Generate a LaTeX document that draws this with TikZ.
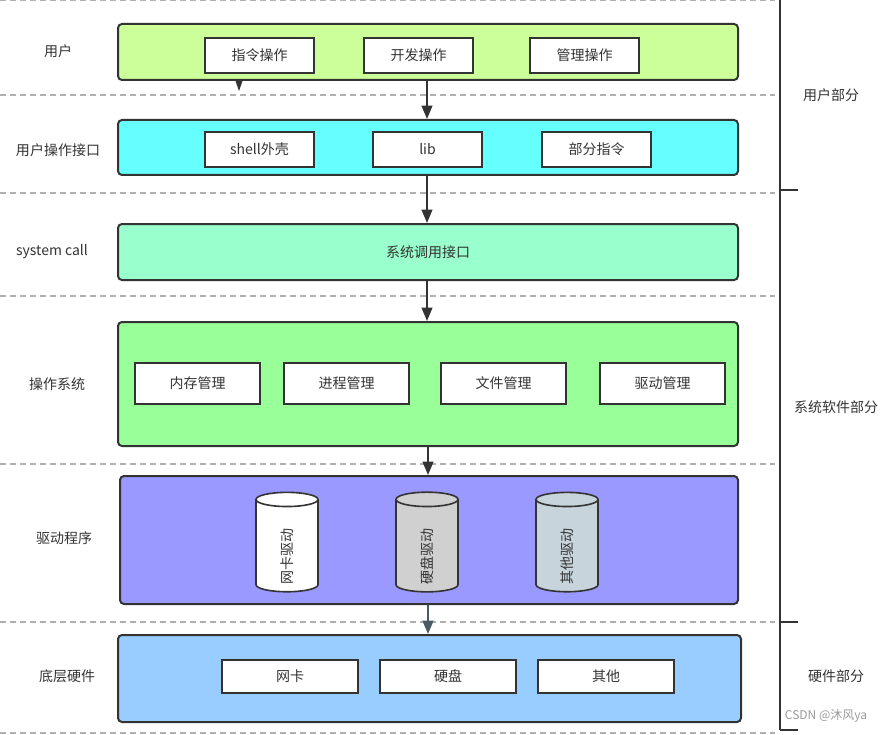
\documentclass[tikz,border=0pt]{standalone}
\usepackage{fontspec}
\setmainfont{Noto Sans CJK SC}
\usetikzlibrary{arrows.meta,shapes.geometric}
\definecolor{txt}{HTML}{333333}
\definecolor{edge}{HTML}{333333}
\definecolor{sepline}{HTML}{B0B0B0}
\definecolor{cUser}{HTML}{CCFF99}
\definecolor{cIface}{HTML}{66FFFF}
\definecolor{cSys}{HTML}{99FFCC}
\definecolor{cOS}{HTML}{99FF99}
\definecolor{cDrv}{HTML}{9999FF}
\definecolor{cHw}{HTML}{99CCFF}
\definecolor{cGray}{HTML}{D0D0D0}
\definecolor{cGray2}{HTML}{C8D4DC}
\tikzset{
  layer/.style={draw=edge, line width=1.5pt, rounded corners=3pt, inner sep=0pt},
  item/.style={draw=edge, line width=1.5pt, fill=white, inner sep=0pt, font=\fontsize{10.5pt}{12pt}\selectfont, text=txt},
  lbl/.style={font=\fontsize{10.5pt}{12pt}\selectfont, text=txt},
  drum/.style={cylinder, rotate=90, draw=edge, line width=1.2pt, aspect=1.1, inner sep=0pt, minimum width={62*0.75pt}, minimum height={90*0.75pt}, font=\fontsize{10.5pt}{12pt}\selectfont, text=txt},
  sep/.style={draw=sepline, line width=0.9pt, dash pattern=on 4.5pt off 3pt},
  flow/.style={draw=edge, line width=1.5pt, -{Triangle[width=8pt,length=10pt]}},
}
\begin{document}
\begin{tikzpicture}[x=0.75pt,y=-0.75pt]
\useasboundingbox (0,0) rectangle (887,734);
% separators
\foreach \yy in {0.8,95,193,296,464,622,733}{\draw[sep] (0,\yy) -- (775,\yy);}
% right bracket
\draw[edge, line width=1.5pt] (780,0) -- (780,730);
\draw[edge, line width=1.5pt] (780,190.5) -- (798,190.5);
\draw[edge, line width=1.5pt] (780,622) -- (798,622);
\draw[edge, line width=1.5pt] (780,730) -- (798,730);
\node[lbl] (rUser) at (831,95) {用户部分};
\node[lbl] (rSys) at (836,407) {系统软件部分};
\node[lbl] (rHw) at (836,676) {硬件部分};
\node[font=\fontsize{9pt}{10pt}\selectfont, text=gray!80] (mark) at (826,716) {CSDN @沐风ya};

% layers
\node[layer, fill=cUser, minimum width={620*0.75pt}, minimum height={56*0.75pt}] (L1) at (428,52) {};
\node[layer, fill=cIface, minimum width={620*0.75pt}, minimum height={55*0.75pt}] (L2) at (428,147.5) {};
\node[layer, fill=cSys, minimum width={620*0.75pt}, minimum height={56*0.75pt}, font=\fontsize{10.5pt}{12pt}\selectfont, text=txt] (L3) at (428,252) {系统调用接口};
\node[layer, fill=cOS, minimum width={620*0.75pt}, minimum height={124*0.75pt}] (L4) at (428,384) {};
\node[layer, fill=cDrv, minimum width={618*0.75pt}, minimum height={128*0.75pt}] (L5) at (429,540) {};
\node[layer, fill=cHw, minimum width={623*0.75pt}, minimum height={87*0.75pt}] (L6) at (429.5,678.5) {};

% left labels
\node[lbl] (n1) at (58,51) {用户};
\node[lbl] (n2) at (58,150) {用户操作接口};
\node[lbl] (n3) at (52,252) {system call};
\node[lbl] (n4) at (57,384) {操作系统};
\node[lbl] (n5) at (64,538) {驱动程序};
\node[lbl] (n6) at (67,676) {底层硬件};

% layer 1 items
\node[item, minimum width={109*0.75pt}, minimum height={35*0.75pt}] (a1) at (259.5,55.5) {指令操作};
\node[item, minimum width={109*0.75pt}, minimum height={35*0.75pt}] (a2) at (418.5,55.5) {开发操作};
\node[item, minimum width={109*0.75pt}, minimum height={35*0.75pt}] (a3) at (584.5,55.5) {管理操作};
% layer 2 items
\node[item, minimum width={109*0.75pt}, minimum height={35*0.75pt}] (b1) at (259.5,149.5) {shell外壳};
\node[item, minimum width={109*0.75pt}, minimum height={35*0.75pt}] (b2) at (427.5,149.5) {lib};
\node[item, minimum width={109*0.75pt}, minimum height={35*0.75pt}] (b3) at (596.5,149.5) {部分指令};
% layer 4 items
\node[item, minimum width={125*0.75pt}, minimum height={41*0.75pt}] (c1) at (197.5,383.5) {内存管理};
\node[item, minimum width={125*0.75pt}, minimum height={41*0.75pt}] (c2) at (346.5,383.5) {进程管理};
\node[item, minimum width={125*0.75pt}, minimum height={41*0.75pt}] (c3) at (503.5,383.5) {文件管理};
\node[item, minimum width={125*0.75pt}, minimum height={41*0.75pt}] (c4) at (662.5,383.5) {驱动管理};
% layer 5 drums
\node[drum, fill=white] (d1) at (287,546) {网卡驱动\hspace*{16pt}};
\node[drum, fill=cGray] (d2) at (427,546) {硬盘驱动\hspace*{16pt}};
\node[drum, fill=cGray2] (d3) at (567,546) {其他驱动\hspace*{16pt}};
% layer 6 items
\node[item, minimum width={136*0.75pt}, minimum height={33*0.75pt}] (e1) at (290,676.5) {网卡};
\node[item, minimum width={136*0.75pt}, minimum height={33*0.75pt}] (e2) at (448,676.5) {硬盘};
\node[item, minimum width={136*0.75pt}, minimum height={33*0.75pt}] (e3) at (606,676.5) {其他};

% flows
\draw[flow] (L1.south -| 427,0) -- (L2.north -| 427,0);
\draw[flow] (L2.south -| 427,0) -- (L3.north -| 427,0);
\draw[flow] (L3.south -| 427,0) -- (L4.north -| 427,0);
\draw[flow] (L4.south -| 428,0) -- (L5.north -| 428,0);
\draw[flow, draw={rgb,255:red,74;green,90;blue,100}] (L5.south -| 428,0) -- (L6.north -| 428,0);
% small stray arrowhead under layer 1
\fill[edge] (235.5,81) -- (242.5,81) -- (239,91) -- cycle;
\end{tikzpicture}
\end{document}
